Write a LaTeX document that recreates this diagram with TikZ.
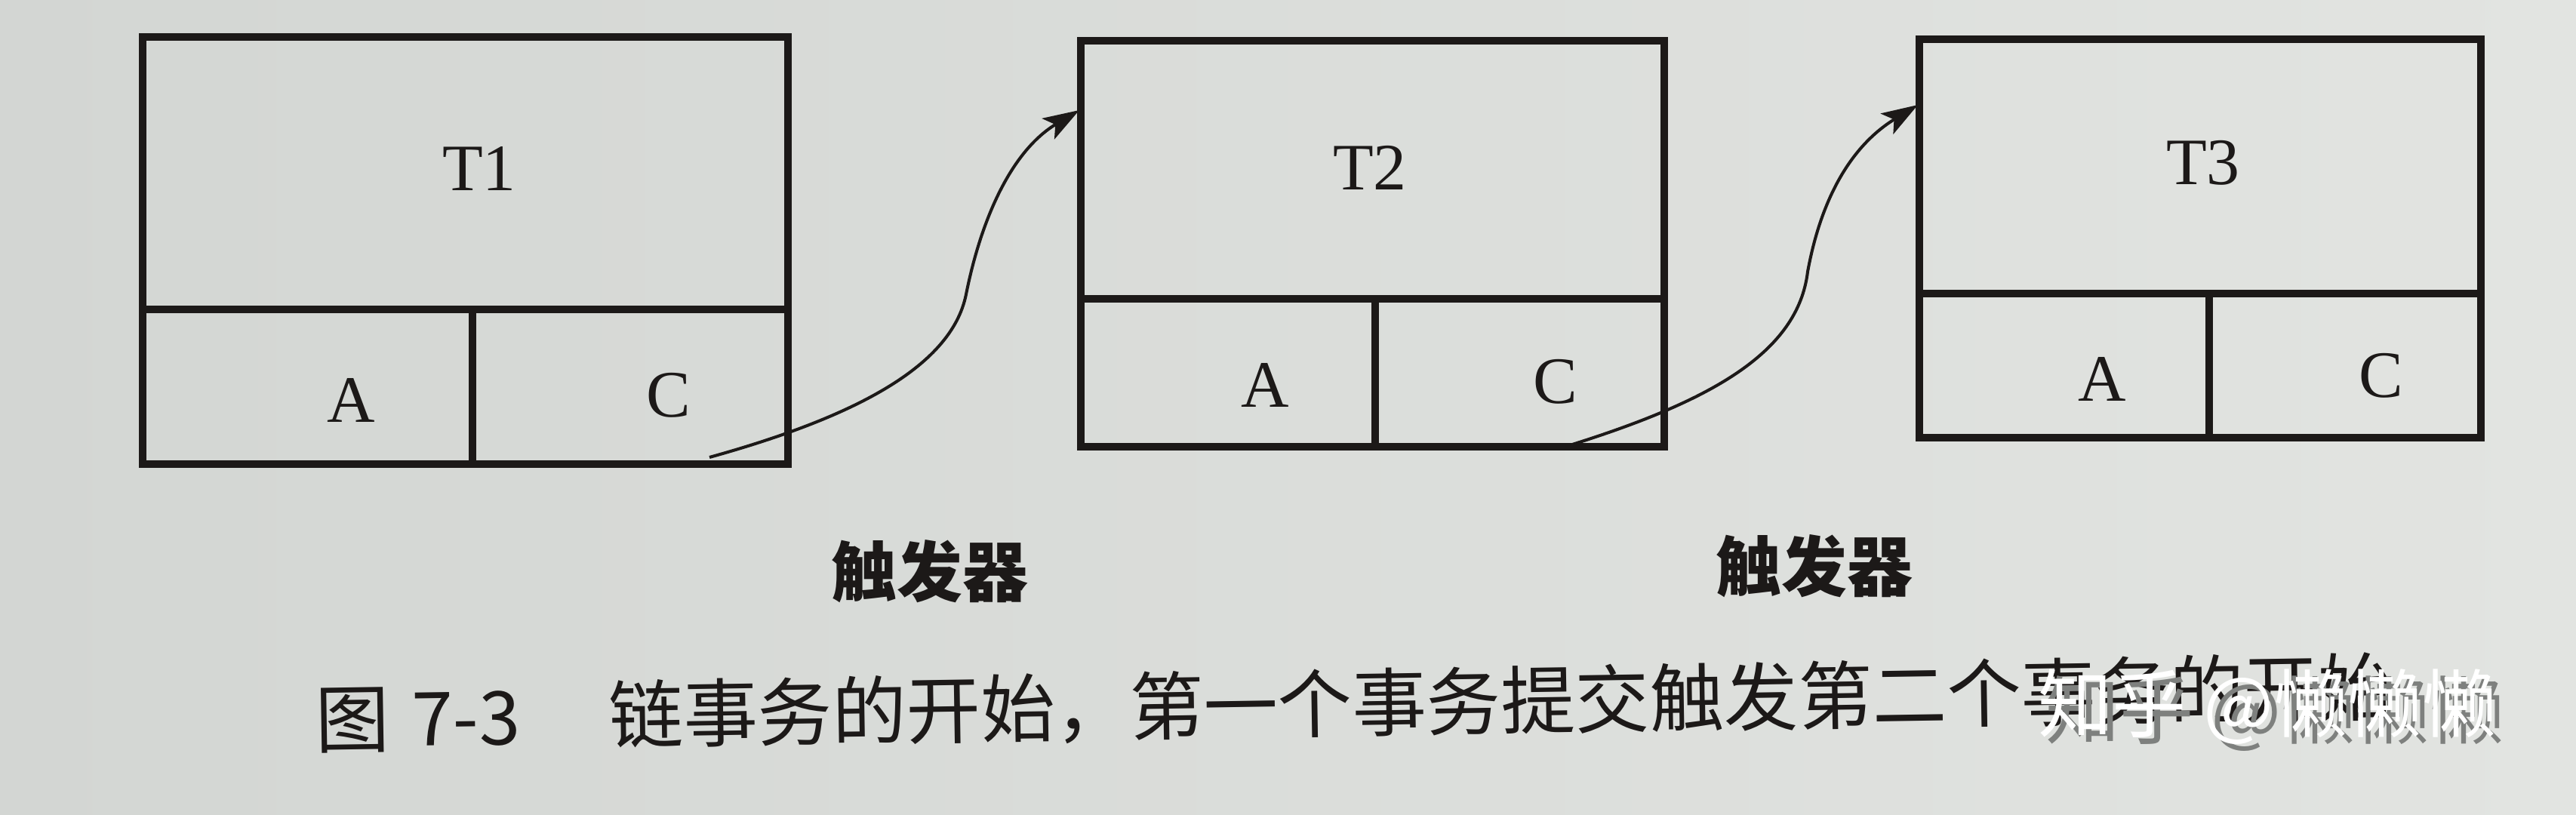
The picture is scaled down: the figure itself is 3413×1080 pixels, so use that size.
\documentclass[tikz,border=0pt]{standalone}
\usepackage{fontspec}
\setmainfont{Liberation Serif}
\newfontfamily\cjk{Noto Sans CJK SC}
\usetikzlibrary{arrows.meta,fit}
\definecolor{ink}{HTML}{1C1918}
\definecolor{paperL}{HTML}{D3D6D3}
\definecolor{paperR}{HTML}{E2E4E1}
\definecolor{shadowgray}{HTML}{7E807E}
\begin{document}
\begin{tikzpicture}[x=0.01cm,y=-0.01cm,
  part/.style={draw=ink, line width=2.9pt, inner sep=0pt},
  lab/.style={font=\fontsize{25pt}{26pt}\selectfont, text=ink, inner sep=0pt},
  trig/.style={font=\cjk\bfseries\fontsize{24.7pt}{26pt}\selectfont, text=ink, inner sep=0pt},
  captext/.style={font=\cjk\fontsize{28pt}{30pt}\selectfont, text=ink, inner sep=0pt},
  wmtext/.style={font=\cjk\fontsize{28pt}{30pt}\selectfont, inner sep=0pt},
  link/.style={draw=ink, line width=1.15pt, -{Stealth[length=0.48cm,width=0.32cm,inset=0.11cm]}}
]
\shade[left color=paperL, right color=paperR] (0,0) rectangle (3413,1080);
\useasboundingbox (0,0) rectangle (3413,1080);

% transaction T1
\node[part, fit={(189,49) (1044,410)}] (T1) {};
\node[part, fit={(189,410) (626,615)}] (A1) {};
\node[part, fit={(626,410) (1044,615)}] (C1) {};
\node[lab] (t1) at (635,223) {T1};
\node[lab] (a1) at (465,530) {A};
\node[lab] (c1) at (886,524) {C};

% transaction T2
\node[part, fit={(1432,54) (2205,396)}] (T2) {};
\node[part, fit={(1432,396) (1822,592)}] (A2) {};
\node[part, fit={(1822,396) (2205,592)}] (C2) {};
\node[lab] (t2) at (1815,222) {T2};
\node[lab] (a2) at (1676,510) {A};
\node[lab] (c2) at (2061,506) {C};

% transaction T3
\node[part, fit={(2543,52) (3287,389)}] (T3) {};
\node[part, fit={(2543,389) (2927,580)}] (A3) {};
\node[part, fit={(2927,389) (3287,580)}] (C3) {};
\node[lab] (t3) at (2919,216) {T3};
\node[lab] (a3) at (2785,502) {A};
\node[lab] (c3) at (3155,498) {C};

% triggers
\coordinate (s1) at (940,606);
\coordinate (e1) at (1430,146);
\coordinate (s2) at (2080,590);
\coordinate (e2) at (2541,139);
\draw[link] (s1) .. controls (1120,556) and (1260,490) .. (1280,390)
                 .. controls (1300,290) and (1340,200) .. (e1);
\draw[link] (s2) .. controls (2265,532) and (2382,468) .. (2395,360)
                 .. controls (2413,262) and (2453,193) .. (e2);

\node[trig] (g1) at (1232,757) {触发器};
\node[trig] (g2) at (2404,750) {触发器};

% caption
\node[captext, anchor=west, rotate=0.9] (caption) at (417,954)
  {图\hspace{0.3em}7-3\hspace{1.2em}链事务的开始，第一个事务提交触发第二个事务的开始};

% watermark
\node[wmtext, text=shadowgray] (wms) at (3014,946) {知乎 @懒懒懒};
\node[wmtext, text=white] (wm) at (3004,937) {知乎 @懒懒懒};
\end{tikzpicture}
\end{document}
